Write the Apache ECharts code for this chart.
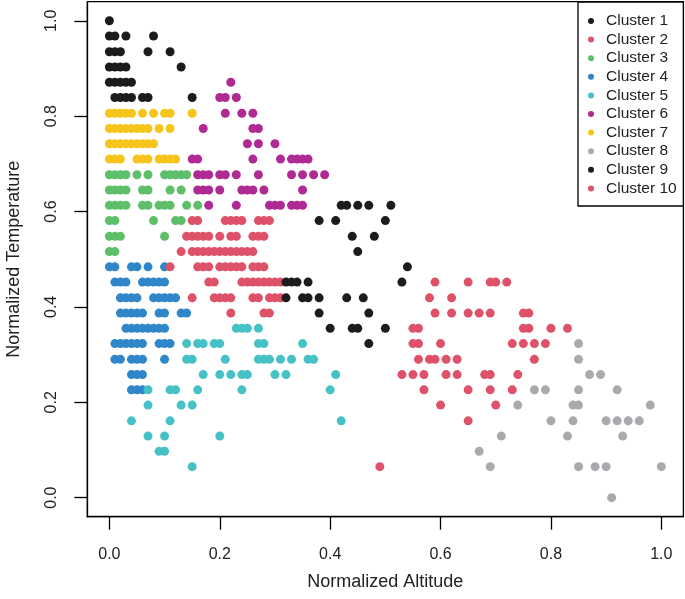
<!DOCTYPE html>
<html>
<head>
<meta charset="utf-8">
<script src="https://cdn.jsdelivr.net/npm/echarts@6/dist/echarts.min.js"></script>
<style>
html,body{margin:0;padding:0;background:#fff;}
#chart{width:685px;height:599px;}
</style>
</head>
<body>
<div id="chart"></div>
<script>
// Each row: [normalized temperature, [normalized altitudes]]
const cluster1 = [
  [1.000,[0.00]],
  [0.968,[0.00,0.01,0.03,0.08]],
  [0.935,[0.00,0.01,0.02,0.07,0.11]],
  [0.903,[0.00,0.01,0.02,0.03,0.13]],
  [0.871,[0.00,0.01,0.02,0.03,0.04]],
  [0.839,[0.01,0.02,0.03,0.04,0.06,0.07,0.15]]
];
const cluster2 = [
  [0.581,[0.15,0.16,0.21,0.22,0.23,0.24,0.27,0.28,0.29]],
  [0.548,[0.14,0.15,0.16,0.17,0.18,0.20,0.22,0.23,0.26,0.27,0.28]],
  [0.516,[0.13,0.15,0.16,0.17,0.18,0.19,0.20,0.21,0.22,0.23,0.24,0.25,0.26]],
  [0.484,[0.11,0.16,0.17,0.18,0.20,0.21,0.22,0.23,0.24,0.26,0.27,0.28]],
  [0.452,[0.18,0.19,0.24,0.25,0.26,0.27,0.28,0.29,0.30,0.31]],
  [0.419,[0.15,0.19,0.20,0.21,0.22,0.26,0.27,0.29,0.30,0.31]],
  [0.387,[0.22,0.28,0.29]]
];
const cluster3 = [
  [0.677,[0.00,0.01,0.02,0.03,0.05,0.07,0.10,0.11,0.12,0.13,0.14]],
  [0.645,[0.00,0.01,0.02,0.03,0.06,0.07,0.11,0.13]],
  [0.613,[0.00,0.01,0.02,0.03,0.06,0.07,0.09,0.10,0.11,0.14,0.16]],
  [0.581,[0.00,0.01,0.08,0.12,0.13]],
  [0.548,[0.00,0.01,0.02,0.10]],
  [0.516,[0.00,0.01]]
];
const cluster4 = [
  [0.484,[0.00,0.01,0.04,0.05,0.07,0.10]],
  [0.452,[0.01,0.02,0.03,0.06,0.07,0.08,0.09,0.10]],
  [0.419,[0.02,0.03,0.04,0.05,0.08,0.09,0.10,0.11,0.12]],
  [0.387,[0.02,0.03,0.04,0.05,0.06,0.09,0.10,0.13,0.14]],
  [0.355,[0.03,0.04,0.05,0.06,0.07,0.08,0.09,0.10]],
  [0.323,[0.01,0.02,0.03,0.04,0.05,0.06,0.09,0.10,0.11]],
  [0.290,[0.01,0.02,0.04,0.05,0.06,0.10]],
  [0.258,[0.04,0.05,0.06]],
  [0.226,[0.04,0.05,0.06]]
];
const cluster5 = [
  [0.355,[0.23,0.24,0.25,0.27]],
  [0.323,[0.14,0.16,0.17,0.19,0.20,0.27,0.28,0.35]],
  [0.290,[0.14,0.15,0.21,0.27,0.28,0.29,0.31,0.33,0.36,0.37]],
  [0.258,[0.17,0.20,0.22,0.24,0.25,0.30,0.32,0.41]],
  [0.226,[0.07,0.11,0.12,0.16,0.24,0.40]],
  [0.194,[0.07,0.13,0.15]],
  [0.161,[0.04,0.11,0.42]],
  [0.129,[0.07,0.10,0.20]],
  [0.097,[0.09,0.10]],
  [0.065,[0.15]]
];
const cluster6 = [
  [0.871,[0.22]],
  [0.839,[0.20,0.21,0.23]],
  [0.806,[0.21,0.24,0.26]],
  [0.774,[0.17,0.26,0.27]],
  [0.742,[0.25,0.27,0.30]],
  [0.710,[0.15,0.16,0.26,0.31,0.33,0.34,0.35,0.36]],
  [0.677,[0.16,0.17,0.18,0.20,0.21,0.23,0.27,0.33,0.35,0.37,0.39]],
  [0.645,[0.16,0.17,0.18,0.20,0.24,0.25,0.26,0.28,0.35]],
  [0.613,[0.18,0.23,0.29,0.30,0.31,0.33,0.34,0.35]]
];
const cluster7 = [
  [0.806,[0.00,0.01,0.02,0.03,0.04,0.06,0.08,0.10,0.11,0.15]],
  [0.774,[0.00,0.01,0.02,0.03,0.04,0.05,0.06,0.07,0.09,0.11]],
  [0.742,[0.00,0.01,0.02,0.03,0.04,0.05,0.06,0.07,0.08]],
  [0.710,[0.00,0.01,0.02,0.05,0.06,0.07,0.09,0.10,0.11,0.12]]
];
const cluster8 = [
  [0.323,[0.85]],
  [0.290,[0.85]],
  [0.258,[0.87,0.89]],
  [0.226,[0.77,0.79,0.85,0.92]],
  [0.194,[0.74,0.84,0.85,0.98]],
  [0.161,[0.80,0.84,0.90,0.92,0.94,0.96]],
  [0.129,[0.71,0.83,0.93]],
  [0.097,[0.67]],
  [0.065,[0.69,0.85,0.88,0.90,1.00]],
  [0.000,[0.91]]
];
const cluster9 = [
  [0.613,[0.42,0.43,0.45,0.47,0.51]],
  [0.581,[0.38,0.41,0.50]],
  [0.548,[0.44,0.48]],
  [0.516,[0.45]],
  [0.484,[0.54]],
  [0.452,[0.32,0.33,0.34,0.36,0.53]],
  [0.419,[0.32,0.35,0.36,0.38,0.43,0.46]],
  [0.387,[0.38,0.47]],
  [0.355,[0.40,0.44,0.45,0.50]],
  [0.323,[0.47]]
];
const cluster10 = [
  [0.452,[0.59,0.65,0.69,0.70,0.72]],
  [0.419,[0.58,0.62]],
  [0.387,[0.59,0.62,0.65,0.67,0.69,0.75,0.76]],
  [0.355,[0.55,0.56,0.75,0.76,0.80,0.83]],
  [0.323,[0.55,0.56,0.60,0.73,0.75,0.77,0.79]],
  [0.290,[0.56,0.58,0.59,0.61,0.63,0.77]],
  [0.258,[0.53,0.55,0.57,0.61,0.63,0.68,0.69,0.74]],
  [0.226,[0.57,0.65,0.69,0.73]],
  [0.194,[0.60,0.70]],
  [0.161,[0.65]],
  [0.065,[0.49]]
];
const clusterNames = ['Cluster 1','Cluster 2','Cluster 3','Cluster 4','Cluster 5','Cluster 6','Cluster 7','Cluster 8','Cluster 9','Cluster 10'];
const clusterData = [cluster1,cluster2,cluster3,cluster4,cluster5,cluster6,cluster7,cluster8,cluster9,cluster10];
const clusterColors = ['#1c1c1c','#de5269','#5dbf69','#2f86c9','#46c1c5','#b02a94','#f6c51c','#a9aaae','#1c1c1c','#de5269'];
const tickValues = [0, 0.2, 0.4, 0.6, 0.8, 1.0];
// drawing order (later on top)
const drawOrder = [0,2,3,4,5,6,7,1,9,8];

function flatten(rows){
  const out = [];
  rows.forEach(r => r[1].forEach(x => out.push([x, r[0]])));
  return out;
}

const font = "'Liberation Sans'";
const chart = echarts.init(document.getElementById('chart'), null, {renderer:'canvas'});

const series = drawOrder.map(i => ({
  name: clusterNames[i],
  type: 'scatter',
  data: flatten(clusterData[i]),
  symbol: 'circle',
  symbolSize: 9,
  itemStyle: {color: clusterColors[i], opacity: 1},
  emphasis: {disabled: true},
  animation: false
}));

function axisCommon(){
  return {
    type: 'value',
    min: -0.04,
    max: 1.04,
    splitLine: {show: false},
    axisLine: {show: true, onZero: false, lineStyle: {color: '#000', width: 1.3}},
    axisTick: {show: true, inside: false, length: 13, customValues: tickValues, lineStyle: {color: '#000', width: 1.3}},
    axisLabel: {customValues: tickValues, formatter: v => v.toFixed(1), color: '#222', fontSize: 16, fontFamily: font},
    nameLocation: 'middle',
    nameTextStyle: {color: '#222', fontSize: 18, fontFamily: font}
  };
}

const xAxis = axisCommon();
xAxis.name = 'Normalized Altitude';
xAxis.nameGap = 56;
xAxis.axisLabel.margin = 30;

const yAxis = axisCommon();
yAxis.name = 'Normalized Temperature';
yAxis.nameGap = 64;
yAxis.axisLabel.margin = 28;
yAxis.axisLabel.rotate = 90;

chart.setOption({
  animation: false,
  backgroundColor: '#fff',
  grid: {left: 87.3, top: 1.7, right: 1.6, bottom: 82.3, show: true, borderColor: '#000', borderWidth: 1.3, backgroundColor: 'transparent', containLabel: false, outerBoundsMode: 'none'},
  xAxis: xAxis,
  yAxis: yAxis,
  legend: {
    data: clusterNames,
    orient: 'vertical',
    left: 578,
    top: 2,
    padding: [9.7, 6.7, 8.3, 10],
    itemGap: 0,
    itemWidth: 6,
    itemHeight: 6,
    icon: 'circle',
    backgroundColor: '#fff',
    borderColor: '#000',
    borderWidth: 1.3,
    borderRadius: 0,
    selectedMode: false,
    textStyle: {color: '#222', fontSize: 15.5, fontFamily: font, lineHeight: 18.6, padding: [0, 0, 0, 7]}
  },
  series: series
});
</script>
</body>
</html>
